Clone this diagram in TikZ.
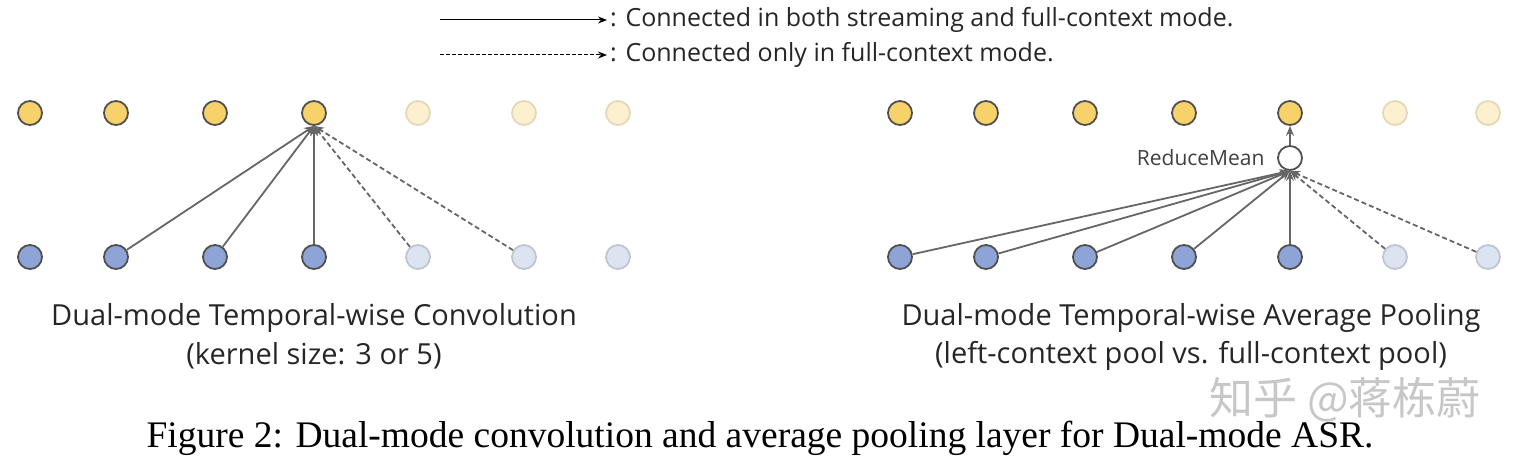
\documentclass[tikz,border=0pt]{standalone}
\usepackage{fontspec}
\setmainfont{Liberation Serif}
\setsansfont{Open Sans}
\newfontfamily\cjk{Noto Sans CJK SC}
\usetikzlibrary{arrows.meta}
\definecolor{yel}{HTML}{F7D26A}
\definecolor{yell}{HTML}{FCF0CF}
\definecolor{blu}{HTML}{8EA4D6}
\definecolor{blul}{HTML}{DCE3F1}
\definecolor{edg}{HTML}{505050}
\definecolor{arr}{HTML}{666666}
\tikzset{
 dot/.style={circle,minimum size=24pt,inner sep=0pt,line width=1.8pt},
 yd/.style={dot,draw=edg,fill=yel},
 ydl/.style={dot,draw=yel!60!gray!50,fill=yell},
 bd/.style={dot,draw=edg,fill=blu},
 bdl/.style={dot,draw=blul!70!gray,fill=blul},
 wd/.style={dot,draw=edg,fill=white},
 con/.style={draw=arr,line width=1.8pt,-{Stealth[length=10pt,width=8pt]}},
 dcon/.style={con,dash pattern=on 5pt off 3pt},
 lg/.style={draw=black,line width=1pt,-{Stealth[length=9pt,width=7pt]}},
 txt/.style={font=\sffamily\fontsize{29}{33}\selectfont,text=black!85},
 lgt/.style={anchor=west,font=\sffamily\fontsize{25}{28}\selectfont,inner sep=0pt,text=black!85},
}
\begin{document}
\begin{tikzpicture}[x=1pt,y=-1pt]
\useasboundingbox (0,0) rectangle (1526,470);
% legend
\coordinate (l1a) at (440,20); \coordinate (l1b) at (607,20);
\coordinate (l2a) at (440,55); \coordinate (l2b) at (607,55);
\draw[lg] (l1a) -- (l1b);
\draw[lg,dash pattern=on 4pt off 2pt] (l2a) -- (l2b);
\node[lgt] (t1) at (610,20) {: Connected in both streaming and full-context mode.};
\node[lgt] (t2) at (610,55) {: Connected only in full-context mode.};
% left
\foreach \x/\i in {30/1,116/2,215/3,314/4}{\node[yd] (a\i) at (\x,113) {}; \node[bd] (b\i) at (\x,257) {};}
\foreach \x/\i in {418/5,524/6,618/7}{\node[ydl] (a\i) at (\x,113) {}; \node[bdl] (b\i) at (\x,257) {};}
\foreach \i in {2,3,4}{\draw[con] (b\i) -- (a4.south);}
\foreach \i in {5,6}{\draw[dcon] (b\i) -- (a4.south);}
% right
\foreach \x/\i in {900/1,986/2,1085/3,1184/4,1290/5}{\node[yd] (c\i) at (\x,113) {}; \node[bd] (d\i) at (\x,257) {};}
\foreach \x/\i in {1395/6,1488/7}{\node[ydl] (c\i) at (\x,113) {}; \node[bdl] (d\i) at (\x,257) {};}
\node[wd] (rm) at (1290,158) {};
\node[anchor=east,font=\sffamily\fontsize{21}{24}\selectfont,text=black!75] (rmt) at (1268,158) {ReduceMean};
\draw[con] (rm) -- (c5);
\foreach \i in {1,2,3,4,5}{\draw[con] (d\i) -- (rm.south);}
\foreach \i in {6,7}{\draw[dcon] (d\i) -- (rm.south);}
% captions
\node[txt] (cl1) at (314,318) {Dual-mode Temporal-wise Convolution};
\node[txt] (cl2) at (314,356) {(kernel size: 3 or 5)};
\node[txt] (cr1) at (1191,318) {Dual-mode Temporal-wise Average Pooling};
\node[txt] (cr2) at (1191,356) {(left-context pool vs. full-context pool)};
\node[font=\cjk\fontsize{44}{48}\selectfont,text=black!22] (wm) at (1345,400) {知乎 @蒋栋蔚};
\node[font=\fontsize{37.5}{42}\selectfont] (cap) at (760,438) {Figure 2: Dual-mode convolution and average pooling layer for Dual-mode ASR.};
\end{tikzpicture}
\end{document}
